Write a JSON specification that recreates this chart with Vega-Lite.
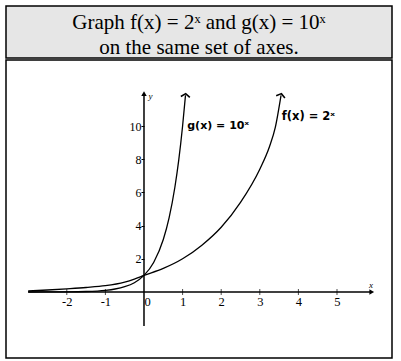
{
  "$schema": "https://vega.github.io/schema/vega-lite/v6.json",
  "background": "white",
  "padding": {"left": 5, "top": 5, "right": 10, "bottom": 6},
  "spacing": 0,
  "config": {"concat": {"spacing": 0}},
  "vconcat": [
    {
      "width": 386,
      "height": 52,
      "view": {"fill": "#e6e6e6", "stroke": "black", "strokeWidth": 1.5},
      "data": {"values": [
        {"line": "Graph  f(x) = 2ˣ  and g(x) = 10ˣ", "order": 1},
        {"line": "on the same set of axes.", "order": 2}
      ]},
      "mark": {"type": "text", "font": "Liberation Serif", "fontSize": 21, "color": "black", "dy": 3.5},
      "encoding": {
        "y": {"field": "order", "type": "ordinal", "scale": {"type": "point", "padding": 0.54}, "axis": null},
        "text": {"field": "line"}
      }
    },
    {
      "width": 386,
      "height": 298,
      "view": {"fill": "white", "stroke": "black", "strokeWidth": 1.5},
      "layer": [
        {
          "data": {"values": [
            {"fn": "f", "x": -3.0, "y": 0.06},
            {"fn": "f", "x": -2.5, "y": 0.12},
            {"fn": "f", "x": -2.0, "y": 0.19},
            {"fn": "f", "x": -1.5, "y": 0.27},
            {"fn": "f", "x": -1.0, "y": 0.38},
            {"fn": "f", "x": -0.5, "y": 0.6},
            {"fn": "f", "x": -0.25, "y": 0.78},
            {"fn": "f", "x": 0.0, "y": 1.0},
            {"fn": "f", "x": 0.5, "y": 1.42},
            {"fn": "f", "x": 1.0, "y": 2.0},
            {"fn": "f", "x": 1.5, "y": 2.82},
            {"fn": "f", "x": 2.0, "y": 3.9},
            {"fn": "f", "x": 2.5, "y": 5.4},
            {"fn": "f", "x": 3.0, "y": 7.4},
            {"fn": "f", "x": 3.25, "y": 8.75},
            {"fn": "f", "x": 3.4, "y": 9.9},
            {"fn": "f", "x": 3.55, "y": 11.85},
            {"fn": "g", "x": -3.0, "y": 0.0},
            {"fn": "g", "x": -2.0, "y": 0.01},
            {"fn": "g", "x": -1.5, "y": 0.03},
            {"fn": "g", "x": -1.0, "y": 0.1},
            {"fn": "g", "x": -0.75, "y": 0.18},
            {"fn": "g", "x": -0.5, "y": 0.32},
            {"fn": "g", "x": -0.25, "y": 0.56},
            {"fn": "g", "x": 0.0, "y": 1.0},
            {"fn": "g", "x": 0.25, "y": 1.78},
            {"fn": "g", "x": 0.5, "y": 3.16},
            {"fn": "g", "x": 0.65, "y": 4.47},
            {"fn": "g", "x": 0.8, "y": 6.31},
            {"fn": "g", "x": 0.9, "y": 7.94},
            {"fn": "g", "x": 1.0, "y": 10.0},
            {"fn": "g", "x": 1.075, "y": 11.85}
          ]},
          "mark": {"type": "line", "color": "black", "strokeWidth": 1.3, "interpolate": "monotone"},
          "encoding": {
            "x": {"field": "x", "type": "quantitative",
              "scale": {"domain": [-3.575, 6.425], "nice": false, "zero": false},
              "axis": {"orient": "bottom", "offset": -66, "values": [-2, -1, 0, 1, 2, 3, 4, 5],
                "domain": false, "ticks": false, "grid": false, "title": null,
                "labelExpr": "'' + datum.value",
                "labelFont": "Liberation Serif", "labelFontSize": 12.5, "labelColor": "black",
                "labelPadding": 3, "labelFlush": false, "labelOverlap": false,
                "labelAlign": {"condition": {"test": "datum.value === 0", "value": "left"}, "value": "center"}}},
            "y": {"field": "y", "type": "quantitative",
              "scale": {"domain": [-3.976, 13.976], "nice": false, "zero": false},
              "axis": {"orient": "left", "offset": -138, "values": [2, 4, 6, 8, 10],
                "domain": false, "ticks": true, "tickSize": 3, "tickColor": "black", "grid": false, "title": null,
                "labelExpr": "'' + datum.value",
                "labelFont": "Liberation Serif", "labelFontSize": 12, "labelColor": "black",
                "labelPadding": 0, "labelOverlap": false}},
            "detail": {"field": "fn"}
          }
        },
        {
          "data": {"values": [{}]},
          "mark": {"type": "rule", "color": "black", "strokeWidth": 1.5},
          "encoding": {
            "x": {"datum": -3.0, "type": "quantitative"},
            "x2": {"datum": 5.88},
            "y": {"datum": 0, "type": "quantitative"}
          }
        },
        {
          "data": {"values": [{}]},
          "mark": {"type": "rule", "color": "black", "strokeWidth": 1.5},
          "encoding": {
            "x": {"datum": 0, "type": "quantitative"},
            "y": {"datum": -2.05, "type": "quantitative"},
            "y2": {"datum": 11.9}
          }
        },
        {
          "data": {"values": [{"t": -2}, {"t": -1}, {"t": 1}, {"t": 2}, {"t": 3}, {"t": 4}, {"t": 5}]},
          "mark": {"type": "tick", "orient": "vertical", "color": "black", "size": 6, "thickness": 1},
          "encoding": {
            "x": {"field": "t", "type": "quantitative"},
            "y": {"datum": 0, "type": "quantitative"}
          }
        },
        {
          "data": {"values": [{}]},
          "mark": {"type": "point", "shape": "triangle-right", "filled": true, "color": "black", "size": 30, "opacity": 1},
          "encoding": {
            "x": {"datum": 5.9, "type": "quantitative"},
            "y": {"datum": 0, "type": "quantitative"}
          }
        },
        {
          "data": {"values": [{}]},
          "mark": {"type": "point", "shape": "triangle-up", "filled": true, "color": "black", "size": 30, "opacity": 1},
          "encoding": {
            "x": {"datum": 0, "type": "quantitative"},
            "y": {"datum": 11.95, "type": "quantitative"}
          }
        },
        {
          "data": {"values": [{}]},
          "mark": {"type": "point", "shape": "M-1,0.75L0,0L1,0.75", "filled": false, "color": "black", "strokeWidth": 1.6, "size": 81, "opacity": 1, "angle": 6},
          "encoding": {
            "x": {"datum": 1.08, "type": "quantitative"},
            "y": {"datum": 11.95, "type": "quantitative"}
          }
        },
        {
          "data": {"values": [{}]},
          "mark": {"type": "point", "shape": "M-1,0.75L0,0L1,0.75", "filled": false, "color": "black", "strokeWidth": 1.6, "size": 81, "opacity": 1, "angle": 15},
          "encoding": {
            "x": {"datum": 3.56, "type": "quantitative"},
            "y": {"datum": 11.95, "type": "quantitative"}
          }
        },
        {
          "data": {"values": [{}]},
          "mark": {"type": "text", "text": "g(x) = 10ˣ", "font": "DejaVu Sans", "fontSize": 11, "fontWeight": "bold", "color": "black", "align": "left", "baseline": "middle"},
          "encoding": {
            "x": {"datum": 1.12, "type": "quantitative"},
            "y": {"datum": 10.0, "type": "quantitative"}
          }
        },
        {
          "data": {"values": [{}]},
          "mark": {"type": "text", "text": "f(x) = 2ˣ", "font": "DejaVu Sans", "fontSize": 11.5, "fontWeight": "bold", "color": "black", "align": "left", "baseline": "middle"},
          "encoding": {
            "x": {"datum": 3.57, "type": "quantitative"},
            "y": {"datum": 10.55, "type": "quantitative"}
          }
        },
        {
          "data": {"values": [{}]},
          "mark": {"type": "text", "text": "x", "font": "Liberation Serif", "fontStyle": "italic", "fontSize": 9, "color": "black", "align": "center", "baseline": "middle"},
          "encoding": {
            "x": {"datum": 5.88, "type": "quantitative"},
            "y": {"datum": 0.4, "type": "quantitative"}
          }
        },
        {
          "data": {"values": [{}]},
          "mark": {"type": "text", "text": "y", "font": "Liberation Serif", "fontStyle": "italic", "fontSize": 9, "color": "black", "align": "center", "baseline": "middle"},
          "encoding": {
            "x": {"datum": 0.17, "type": "quantitative"},
            "y": {"datum": 11.8, "type": "quantitative"}
          }
        }
      ]
    }
  ]
}
